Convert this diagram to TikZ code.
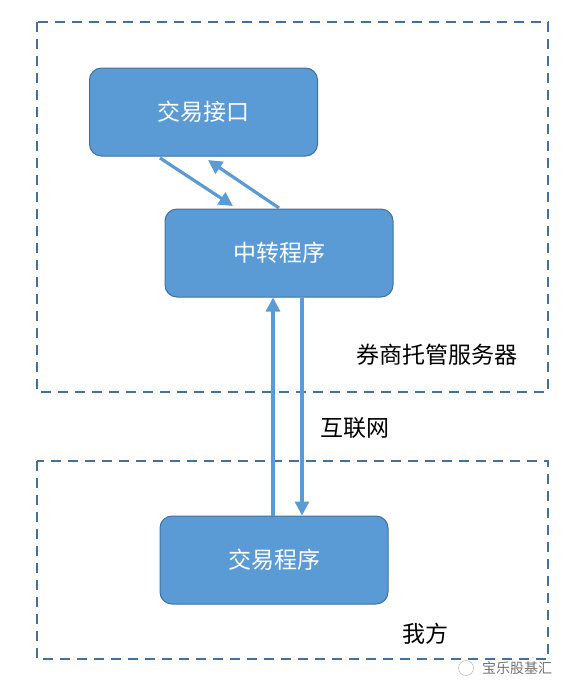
\documentclass[tikz,border=0pt]{standalone}
\usepackage{fontspec}
\newfontfamily\cjk{Noto Sans CJK SC}
\usetikzlibrary{arrows.meta}
\definecolor{boxfill}{HTML}{5B9BD5}
\definecolor{boxline}{HTML}{41719C}
\begin{document}
\begin{tikzpicture}[x=1pt,y=-1pt,
  blk/.style={draw=boxline,line width=1pt,fill=boxfill,rounded corners=12pt,minimum width=228pt,minimum height=88pt,text=white,font=\cjk\fontsize{23}{26}\selectfont},
  zone/.style={draw=boxline,line width=2pt,dash pattern=on 10pt off 7pt},
  conn/.style={draw=boxfill,line width=3.2pt,-{Triangle[length=14pt,width=14pt]}},
  lbl/.style={font=\cjk\fontsize{23}{26}\selectfont,text=black}]
\useasboundingbox (0,0) rectangle (569,694);
\draw[zone] (37,22) rectangle (548,392);
\draw[zone] (37,461) rectangle (548,659);
\node[blk] (jk) at (203.5,112) {交易接口};
\node[blk] (zz) at (279,253) {中转程序};
\node[blk] (cx) at (274,560) {交易程序};
\coordinate (a1) at (160,158);
\coordinate (a2) at (233,206);
\coordinate (b1) at (279,208);
\coordinate (b2) at (208,160);
\draw[conn] (a1) -- (a2);
\draw[conn] (b1) -- (b2);
\draw[conn] (cx.north -| 273,0) -- (zz.south -| 273,0);
\draw[conn] (zz.south -| 302,0) -- (cx.north -| 302,0);
\node[lbl] (qs) at (437,355) {券商托管服务器};
\node[lbl] (hl) at (355,428) {互联网};
\node[lbl] (wf) at (425,634) {我方};
\node[draw=gray!70,circle,minimum size=15pt,inner sep=0pt] (ic) at (466,668) {};
\node[font=\cjk\fontsize{14}{16}\selectfont,text=gray!90!black] (wm) at (517,668) {宝乐股基汇};
\end{tikzpicture}
\end{document}
